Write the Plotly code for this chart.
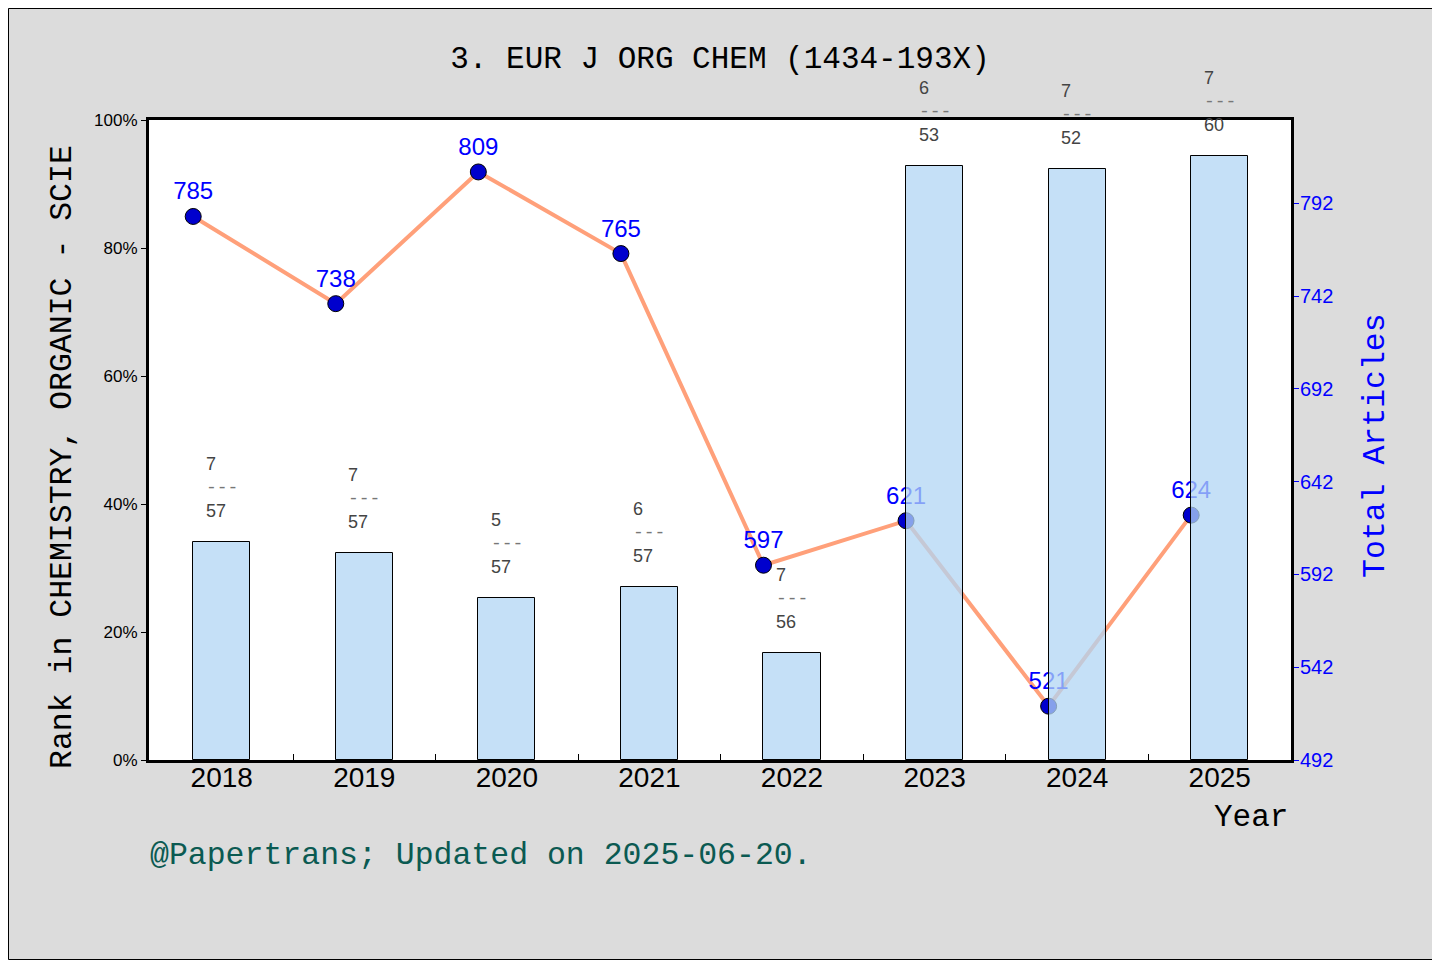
import plotly.graph_objects as go

years = ["2018", "2019", "2020", "2021", "2022", "2023", "2024", "2025"]
articles = [785, 738, 809, 765, 597, 621, 521, 624]
rank_pct = [0.340, 0.323, 0.253, 0.270, 0.167, 0.928, 0.924, 0.943]
rank_num = [7, 7, 5, 6, 7, 6, 7, 7]
rank_den = [57, 57, 57, 57, 56, 53, 52, 60]
right_ticks = [492, 542, 592, 642, 692, 742, 792]
left_ticks = [0, 0.2, 0.4, 0.6, 0.8, 1.0]

MONO = "Liberation Mono, DejaVu Sans Mono, monospace"
SANS = "Liberation Sans, Arial, sans-serif"
BLUE = "#0000FF"

# page body adds 8px, so the figure is 1432x952 and margins are shifted by 8
W, H = 1432, 952
L, R, T, B = 141, 149, 112, 200
PW, PH = W - L - R, H - T - B

xs = list(range(len(years)))
bar_x = [x + 0.2 for x in xs]
sep_x = [x + 0.7 for x in xs[:-1]]

fig = go.Figure()

# line first (base axis), bars overlaid on top with some transparency
fig.add_trace(go.Scatter(
    x=xs, y=articles, mode="lines+markers+text",
    text=[str(v) for v in articles], textposition="top center",
    textfont=dict(color=BLUE, size=24, family=SANS),
    line=dict(color="#FFA07A", width=4),
    marker=dict(color="#0000CD", size=16, line=dict(color="black", width=1)),
    yaxis="y", cliponaxis=False, showlegend=False,
))

fig.add_trace(go.Bar(
    x=bar_x, y=rank_pct, width=0.4,
    marker=dict(color="rgba(178,214,244,0.75)", line=dict(color="black", width=1)),
    yaxis="y2", showlegend=False,
))

dash = '<span style="font-family:Liberation Mono;color:#777777">---</span>'
for bx, p, n, d in zip(bar_x, rank_pct, rank_num, rank_den):
    fig.add_annotation(
        x=bx, y=p, xref="x", yref="y2", yanchor="bottom", xanchor="center",
        text=f"{n}<br>{dash}<br>{d}", align="left", showarrow=False, yshift=19,
        font=dict(size=18, color="#444444", family=SANS),
    )


def px_x(sx):
    # screen x -> paper x
    return (sx - 8 - L) / PW


def px_y(sy):
    # screen y -> paper y
    return (T + PH - (sy - 8)) / PH


fig.add_annotation(
    x=px_x(62), y=px_y(457), xref="paper", yref="paper", xanchor="center", yanchor="middle",
    text="Rank in CHEMISTRY, ORGANIC - SCIE", textangle=-90, showarrow=False,
    font=dict(size=31.5, color="black", family=MONO),
)
fig.add_annotation(
    x=px_x(1375), y=px_y(446), xref="paper", yref="paper", xanchor="center", yanchor="middle",
    text="Total Articles", textangle=-90, showarrow=False,
    font=dict(size=31.5, color=BLUE, family=MONO),
)
fig.add_annotation(
    x=1, y=px_y(817), xref="paper", yref="paper", xanchor="right", yanchor="middle",
    text="Year", showarrow=False, font=dict(size=31, color="black", family=MONO), xshift=-1,
)
fig.add_annotation(
    x=0, y=px_y(855), xref="paper", yref="paper", xanchor="left", yanchor="middle",
    text="@Papertrans; Updated on 2025-06-20.", showarrow=False,
    font=dict(size=31.5, color="#0B5A52", family=MONO), xshift=-1,
)

# outer frame of the picture
fig.add_shape(type="rect", xref="paper", yref="paper",
              x0=(0.5 - L) / PW, x1=(W - 0.5 - L) / PW,
              y0=(PH + T - H + 0.5) / PH, y1=(PH + T - 0.5) / PH,
              line=dict(color="black", width=1), layer="below")

fig.update_layout(
    width=W, height=H,
    paper_bgcolor="#DCDCDC", plot_bgcolor="white",
    margin=dict(l=L, r=R, t=T, b=B),
    title=dict(text="3. EUR J ORG CHEM (1434-193X)", x=(L + PW / 2) / W, xanchor="center",
               y=1 - 49 / H, yanchor="middle",
               font=dict(size=31, color="black", family=MONO)),
    bargap=0,
    xaxis=dict(
        range=[-0.31, 7.7], tickvals=bar_x, ticktext=years, ticks="",
        tickfont=dict(size=28, color="black", family=SANS), ticklabelstandoff=-10,
        showline=True, linecolor="black", linewidth=3, mirror=True,
        showgrid=False, zeroline=False,
        minor=dict(tickvals=sep_x, ticks="inside", ticklen=6, tickcolor="black", tickwidth=1),
    ),
    yaxis=dict(
        range=[492, 837], side="right", tickvals=right_ticks,
        ticks="outside", ticklen=5, tickcolor=BLUE,
        tickfont=dict(size=20, color=BLUE, family=SANS), ticklabelstandoff=-3,
        showline=True, linecolor="black", linewidth=3, mirror=True,
        showgrid=False, zeroline=False,
    ),
    yaxis2=dict(
        range=[0, 1], overlaying="y", side="left", tickvals=left_ticks,
        tickformat=".0%", ticks="outside", ticklen=6, tickcolor="black",
        tickfont=dict(size=17, color="black", family=SANS),
        showline=True, linecolor="black", linewidth=2,
        showgrid=False, zeroline=False,
    ),
)

fig.write_html("out.html")
